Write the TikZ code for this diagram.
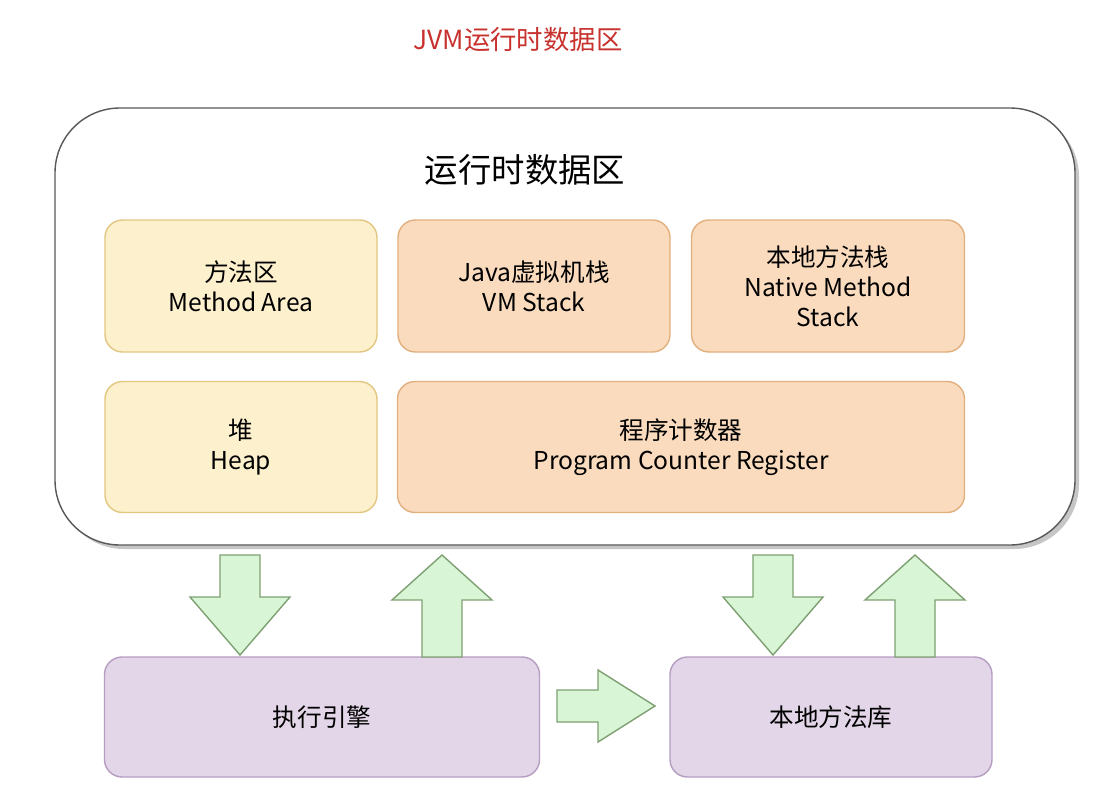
\documentclass[tikz,border=0pt]{standalone}
\usepackage{fontspec}
\setmainfont{Noto Sans CJK SC}
\begin{document}
\begin{tikzpicture}[x=0.02cm,y=-0.02cm,
 box/.style={draw,rounded corners=0.35cm,line width=0.8pt,align=center,font=\fontsize{14}{17}\selectfont,inner sep=0pt},
 yel/.style={box,fill=yellowF,draw=yellowD},
 ora/.style={box,fill=orangeF,draw=orangeD},
 pur/.style={box,fill=purpleF,draw=purpleD},
 arr/.style={fill=greenF,draw=greenD,line width=0.8pt,line join=miter}]
\definecolor{yellowF}{HTML}{FDF0CC}\definecolor{yellowD}{HTML}{E2C781}
\definecolor{orangeF}{HTML}{FADBBE}\definecolor{orangeD}{HTML}{E2B07F}
\definecolor{purpleF}{HTML}{E3D6E8}\definecolor{purpleD}{HTML}{B69DC2}
\definecolor{greenF}{HTML}{D8F5D6}\definecolor{greenD}{HTML}{7FA072}
\definecolor{titleR}{HTML}{C8322E}
\useasboundingbox (0,0) rectangle (1102,791);
\fill[white] (0,0) rectangle (1102,791);
\node[text=titleR,font=\fontsize{15}{18}\selectfont] (title) at (518,40) {JVM运行时数据区};
\fill[gray!45,rounded corners=1.3cm] (59,112) rectangle (1079,549);
\draw[fill=white,draw=gray!70!black,line width=0.8pt,rounded corners=1.3cm] (55,108) rectangle (1075,545);
\node[font=\fontsize{19}{22}\selectfont] (rt) at (525,170) {运行时数据区};
\node[yel,minimum width=272*0.02cm,minimum height=132*0.02cm] (ma) at (241,286) {方法区\\Method Area};
\node[ora,minimum width=272*0.02cm,minimum height=132*0.02cm] (vm) at (534,286) {Java虚拟机栈\\VM Stack};
\node[ora,minimum width=273*0.02cm,minimum height=132*0.02cm] (nm) at (828,286) {本地方法栈\\Native Method\\Stack};
\node[yel,minimum width=272*0.02cm,minimum height=131*0.02cm] (heap) at (241,447) {堆\\Heap};
\node[ora,minimum width=567*0.02cm,minimum height=131*0.02cm] (pc) at (681,447) {程序计数器\\Program Counter Register};
\node[pur,minimum width=435*0.02cm,minimum height=120*0.02cm] (ee) at (322,717) {执行引擎};
\node[pur,minimum width=322*0.02cm,minimum height=120*0.02cm] (nl) at (831,717) {本地方法库};
% arrows
\draw[arr] (220,555)--(260,555)--(260,597)--(290,597)--(240,655)--(190,597)--(220,597)--cycle;
\draw[arr] (422,657)--(462,657)--(462,600)--(492,600)--(442,555)--(392,600)--(422,600)--cycle;
\draw[arr] (557,690)--(598,690)--(598,670)--(655,706)--(598,742)--(598,722)--(557,722)--cycle;
\draw[arr] (753,555)--(793,555)--(793,597)--(823,597)--(773,655)--(723,597)--(753,597)--cycle;
\draw[arr] (895,657)--(935,657)--(935,600)--(965,600)--(915,555)--(865,600)--(895,600)--cycle;
\end{tikzpicture}
\end{document}
